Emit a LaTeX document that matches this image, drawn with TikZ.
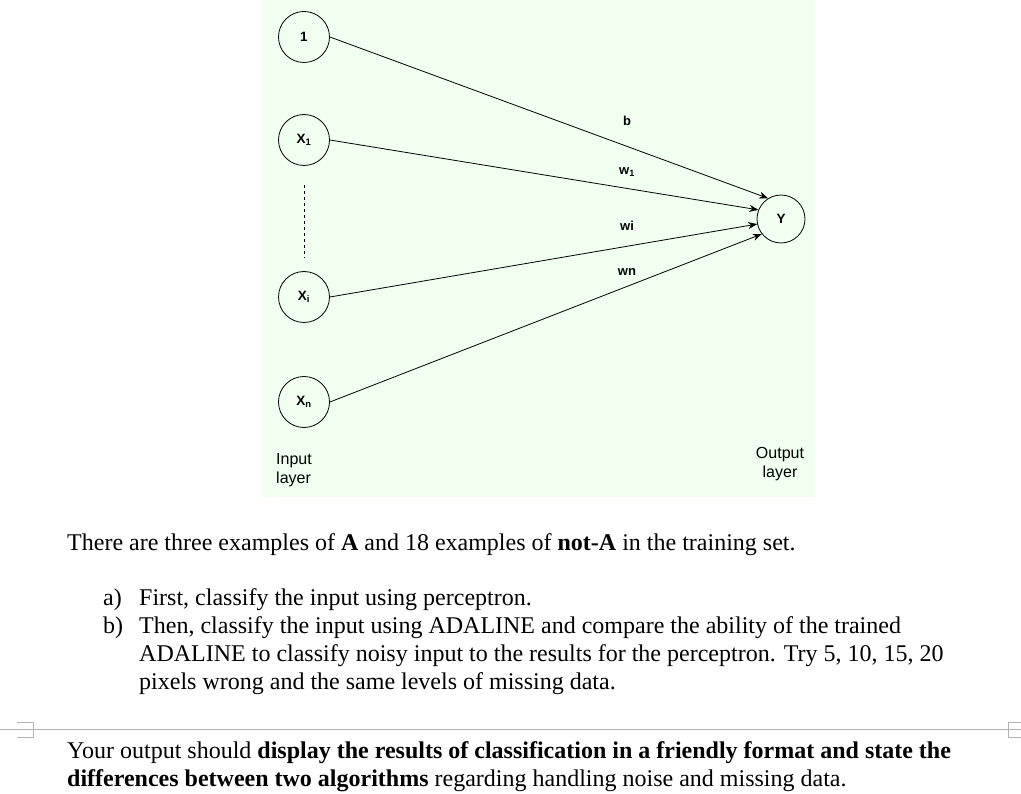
\documentclass[tikz,border=0pt]{standalone}
\usepackage{fontspec}
\usetikzlibrary{arrows.meta}
\setmainfont{Liberation Serif}
\newfontfamily\arialf{Liberation Sans}
\begin{document}
\begin{tikzpicture}[x=1pt,y=-1pt,
  neuron/.style={circle,draw,line width=0.8pt,minimum size=51pt,inner sep=0pt,font=\arialf\bfseries\fontsize{13.5}{16}\selectfont},
  wlab/.style={font=\arialf\bfseries\fontsize{13}{16}\selectfont},
  conn/.style={line width=0.8pt,-{Stealth[length=9pt,width=7pt]}},
  body/.style={anchor=base west,font=\fontsize{24}{28}\selectfont,inner sep=0pt}]
\useasboundingbox (0,0) rectangle (1021,794);
\fill[fill={rgb,255:red,240;green,255;blue,240}] (262,0) rectangle (815,497);
\node[neuron] (n1) at (304,37) {1};
\node[neuron] (x1) at (304,140) {X\textsubscript{1}};
\node[neuron] (xi) at (304,297) {X\textsubscript{i}};
\node[neuron] (xn) at (304,402) {X\textsubscript{n}};
\node[neuron,minimum size=48pt] (y) at (781,219) {Y};
\coordinate (dt) at (304,185);
\coordinate (db) at (304,258);
\draw[dashed,line width=0.8pt] (dt) -- (db);
\draw[conn] (n1.east) -- (y.122);
\draw[conn] (x1.east) -- (y.158);
\draw[conn] (xi.east) -- (y.192);
\draw[conn] (xn.east) -- (y.218);
\node[wlab] (lb) at (627,121) {b};
\node[wlab] (lw1) at (627,172) {w\textsubscript{1}};
\node[wlab] (lwi) at (627,226) {wi};
\node[wlab] (lwn) at (627,272) {wn};
\node[align=left,anchor=north west,inner sep=0pt,font=\arialf\fontsize{16}{19}\selectfont] (il) at (276,453) {Input\\layer};
\node[align=center,anchor=north,inner sep=0pt,font=\arialf\fontsize{16}{19}\selectfont] (ol) at (780,447) {Output\\layer};
\node[body] (t1) at (67,550) {There are three examples of \textbf{A} and 18 examples of \textbf{not-A} in the training set.};
\node[body] (la) at (103,605) {a)};
\node[body] (ta) at (139,605) {First, classify the input using perceptron.};
\node[body] (lbb) at (103,633) {b)};
\node[body] (tb1) at (139,633) {Then, classify the input using ADALINE and compare the ability of the trained};
\node[body] (tb2) at (139,661) {ADALINE to classify noisy input to the results for the perceptron. Try 5, 10, 15, 20};
\node[body] (tb3) at (139,689) {pixels wrong and the same levels of missing data.};
\draw[gray!60,line width=0.8pt] (0,729) -- (1021,729);
\draw[gray!60,line width=0.6pt] (17,722) -- (33,722) -- (33,737) -- (17,737);
\draw[gray!60,line width=0.6pt] (1021,722) -- (1008,722) -- (1008,737) -- (1021,737);
\node[body] (p1) at (67,758) {Your output should \textbf{display the results of classification in a friendly format and state the}};
\node[body] (p2) at (67,786) {\textbf{differences between two algorithms} regarding handling noise and missing data.};
\end{tikzpicture}
\end{document}
